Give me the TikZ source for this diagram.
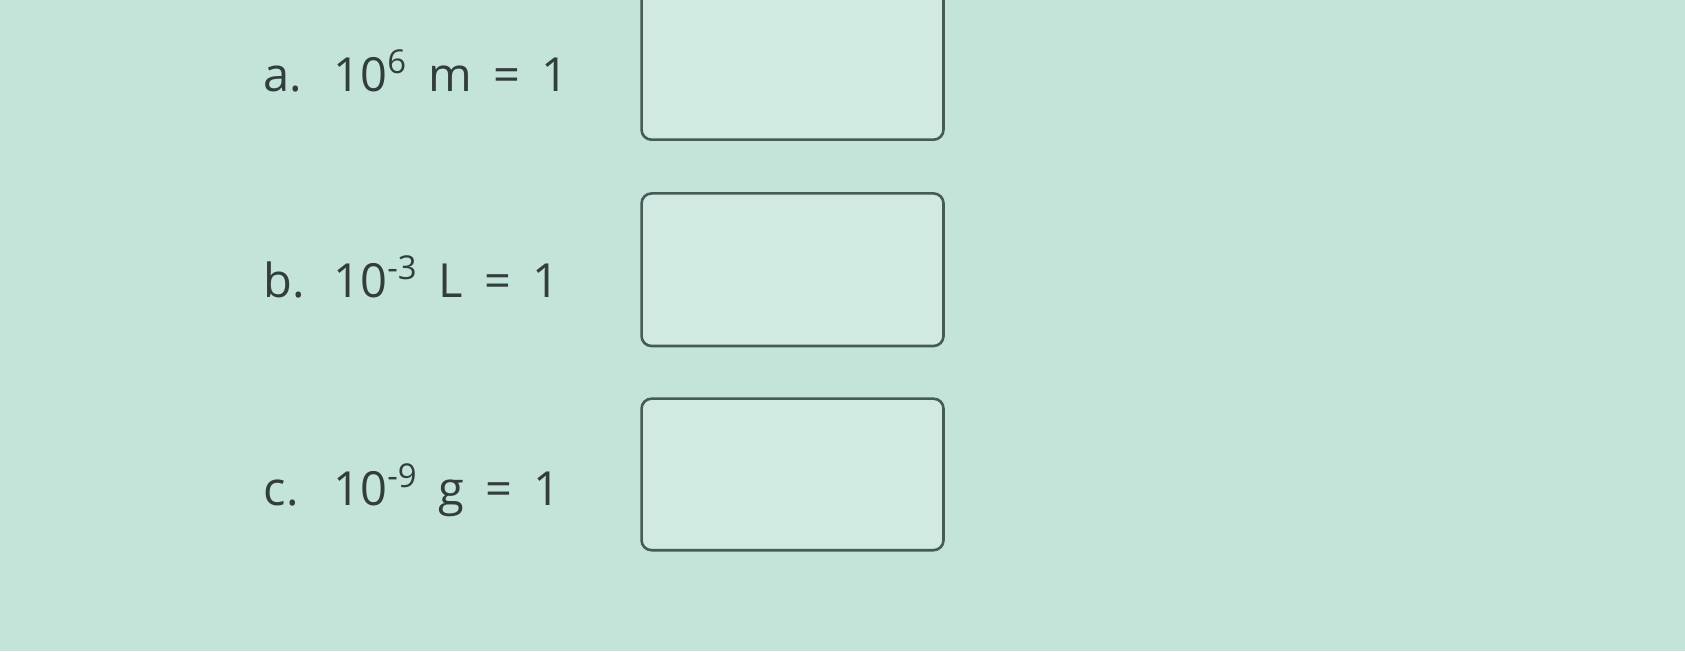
\documentclass[tikz,border=0pt]{standalone}
\usepackage{fontspec}
\setmainfont{Open Sans}
\definecolor{bg}{RGB}{196,228,218}
\definecolor{ink}{RGB}{50,62,62}
\definecolor{bx}{RGB}{70,90,88}
\newcommand{\gp}{\hspace{0.45em}}
\begin{document}
\begin{tikzpicture}[x=0.5373pt,y=-0.5373pt,
  lab/.style={anchor=base west,inner sep=0pt,text=ink,font=\fontsize{23.5}{28}\selectfont},
  ansbox/.style={draw=bx,line width=1.3pt,rounded corners=5pt,fill=bg!80!white}]
\fill[bg] (0,0) rectangle (1568,606);
\useasboundingbox (0,0) rectangle (1568,606);
\node[lab] (la) at (245,85) {a.};
\node[lab] (ea) at (310,85) {10\textsuperscript{6}\gp m\gp =\gp 1};
\node[lab] (lb) at (245,277) {b.};
\node[lab] (eb) at (310,277) {10\textsuperscript{-3}\gp L\gp =\gp 1};
\node[lab] (lc) at (245,470) {c.};
\node[lab] (ec) at (310,470) {10\textsuperscript{-9}\gp g\gp =\gp 1};
\draw[ansbox] (597,-10) rectangle (878,130);
\draw[ansbox] (597,180) rectangle (878,322);
\draw[ansbox] (597,371) rectangle (878,512);
\end{tikzpicture}
\end{document}
